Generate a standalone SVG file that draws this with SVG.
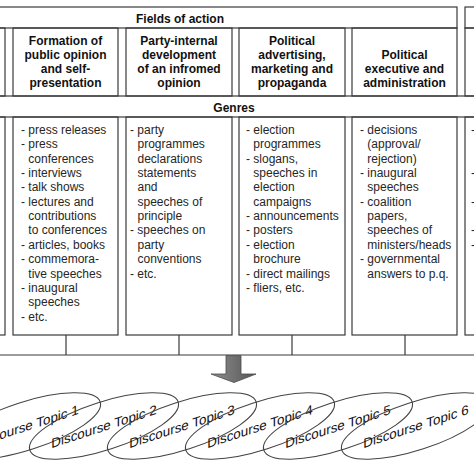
<svg xmlns="http://www.w3.org/2000/svg" width="474" height="474" viewBox="0 0 474 474">
<style>
.ln{fill:none;stroke:#3a3a3a;stroke-width:1.2}
.hd{font-family:"Liberation Sans",Arial,sans-serif;font-size:12px;font-weight:bold;fill:#111;text-anchor:middle}
.li{font-family:"Liberation Sans",Arial,sans-serif;font-size:12px;fill:#262626}
.tp{font-family:"Liberation Sans",Arial,sans-serif;font-size:13.4px;fill:#111;text-anchor:middle}
.el{fill:none;stroke:#444;stroke-width:1.1}
</style>
<defs>
<linearGradient id="ag" x1="0" y1="0" x2="1" y2="0">
<stop offset="0" stop-color="#8e8e8e"/>
<stop offset="1" stop-color="#555"/>
</linearGradient>
</defs>
<rect width="474" height="474" fill="#fff"/>

<g id="fields-header">
<rect class="ln" x="-10" y="7" width="467" height="21"/>
<rect class="ln" x="465" y="7" width="30" height="21"/>
<text class="hd" x="180" y="22.5">Fields of action</text>
</g>

<g id="field-0"><rect class="ln" x="-10" y="28" width="15" height="68"/></g>
<g id="field-1">
<rect class="ln" x="13" y="28" width="105" height="68"/>
<text class="hd" x="65.5" y="45">Formation of</text>
<text class="hd" x="65.5" y="59">public opinion</text>
<text class="hd" x="65.5" y="73">and self-</text>
<text class="hd" x="65.5" y="87">presentation</text>
</g>
<g id="field-2">
<rect class="ln" x="126" y="28" width="106" height="68"/>
<text class="hd" x="179" y="45">Party-internal</text>
<text class="hd" x="179" y="59">development</text>
<text class="hd" x="179" y="73">of an infromed</text>
<text class="hd" x="179" y="87">opinion</text>
</g>
<g id="field-3">
<rect class="ln" x="239" y="28" width="106" height="68"/>
<text class="hd" x="292" y="45">Political</text>
<text class="hd" x="292" y="59">advertising,</text>
<text class="hd" x="292" y="73">marketing and</text>
<text class="hd" x="292" y="87">propaganda</text>
</g>
<g id="field-4">
<rect class="ln" x="352" y="28" width="105" height="68"/>
<text class="hd" x="404.5" y="59">Political</text>
<text class="hd" x="404.5" y="73">executive and</text>
<text class="hd" x="404.5" y="87">administration</text>
</g>
<g id="field-5"><rect class="ln" x="465" y="28" width="30" height="68"/></g>

<g id="genres-header">
<rect class="ln" x="-10" y="96" width="505" height="21"/>
<text class="hd" x="234" y="111.5">Genres</text>
</g>

<g id="genre-0"><rect class="ln" x="-10" y="117" width="15" height="218"/></g>
<g id="genre-1">
<rect class="ln" x="13" y="117" width="105" height="218"/>
<text class="li" x="21" y="134">- press releases</text>
<text class="li" x="21" y="148.35">- press</text>
<text class="li" x="28.3" y="162.7">conferences</text>
<text class="li" x="21" y="177.05">- interviews</text>
<text class="li" x="21" y="191.4">- talk shows</text>
<text class="li" x="21" y="205.75">- lectures and</text>
<text class="li" x="28.3" y="220.1">contributions</text>
<text class="li" x="28.3" y="234.45">to conferences</text>
<text class="li" x="21" y="248.8">- articles, books</text>
<text class="li" x="21" y="263.15">- commemora-</text>
<text class="li" x="28.3" y="277.5">tive speeches</text>
<text class="li" x="21" y="291.85">- inaugural</text>
<text class="li" x="28.3" y="306.2">speeches</text>
<text class="li" x="21" y="320.55">- etc.</text>
</g>
<g id="genre-2">
<rect class="ln" x="126" y="117" width="106" height="218"/>
<text class="li" x="130" y="134">- party</text>
<text class="li" x="137.5" y="148.35">programmes</text>
<text class="li" x="137.5" y="162.7">declarations</text>
<text class="li" x="137.5" y="177.05">statements</text>
<text class="li" x="137.5" y="191.4">and</text>
<text class="li" x="137.5" y="205.75">speeches of</text>
<text class="li" x="137.5" y="220.1">principle</text>
<text class="li" x="130" y="234.45">- speeches on</text>
<text class="li" x="137.5" y="248.8">party</text>
<text class="li" x="137.5" y="263.15">conventions</text>
<text class="li" x="130" y="277.5">- etc.</text>
</g>
<g id="genre-3">
<rect class="ln" x="239" y="117" width="106" height="218"/>
<text class="li" x="246" y="134">- election</text>
<text class="li" x="253.3" y="148.35">programmes</text>
<text class="li" x="246" y="162.7">- slogans,</text>
<text class="li" x="253.3" y="177.05">speeches in</text>
<text class="li" x="253.3" y="191.4">election</text>
<text class="li" x="253.3" y="205.75">campaigns</text>
<text class="li" x="246" y="220.1">- announcements</text>
<text class="li" x="246" y="234.45">- posters</text>
<text class="li" x="246" y="248.8">- election</text>
<text class="li" x="253.3" y="263.15">brochure</text>
<text class="li" x="246" y="277.5">- direct mailings</text>
<text class="li" x="246" y="291.85">- fliers, etc.</text>
</g>
<g id="genre-4">
<rect class="ln" x="352" y="117" width="105" height="218"/>
<text class="li" x="360" y="134">- decisions</text>
<text class="li" x="367.3" y="148.35">(approval/</text>
<text class="li" x="367.3" y="162.7">rejection)</text>
<text class="li" x="360" y="177.05">- inaugural</text>
<text class="li" x="367.3" y="191.4">speeches</text>
<text class="li" x="360" y="205.75">- coalition</text>
<text class="li" x="367.3" y="220.1">papers,</text>
<text class="li" x="367.3" y="234.45">speeches of</text>
<text class="li" x="367.3" y="248.8">ministers/heads</text>
<text class="li" x="360" y="263.15">- governmental</text>
<text class="li" x="367.3" y="277.5">answers to p.q.</text>
</g>
<g id="genre-5">
<rect class="ln" x="465" y="117" width="30" height="218"/>
<text class="li" x="471" y="134">-</text>
<text class="li" x="471" y="177.05">-</text>
<text class="li" x="471" y="205.75">-</text>
<text class="li" x="471" y="234.45">-</text>
<text class="li" x="471" y="248.8">-</text>
</g>

<g id="connectors">
<path class="ln" d="M66 335V355M179 335V355M292 335V355M405 335V355M-10 355H484"/>
</g>

<g id="arrow">
<polygon points="226,355.6 241,355.6 241,374 256,374 234,382.5 211,374 226,374" fill="url(#ag)" stroke="#4a4a4a" stroke-width="0.8"/>
</g>

<g id="topic-1">
<ellipse class="el" cx="26" cy="426" rx="78" ry="24" transform="rotate(-18 26 426)"/>
<text class="tp" transform="translate(26 426) skewY(-18)" x="0" y="5">Discourse Topic 1</text>
</g>
<g id="topic-2">
<ellipse class="el" cx="104" cy="426" rx="78" ry="24" transform="rotate(-18 104 426)"/>
<text class="tp" transform="translate(104 426) skewY(-18)" x="0" y="5">Discourse Topic 2</text>
</g>
<g id="topic-3">
<ellipse class="el" cx="182" cy="426" rx="78" ry="24" transform="rotate(-18 182 426)"/>
<text class="tp" transform="translate(182 426) skewY(-18)" x="0" y="5">Discourse Topic 3</text>
</g>
<g id="topic-4">
<ellipse class="el" cx="260" cy="426" rx="78" ry="24" transform="rotate(-18 260 426)"/>
<text class="tp" transform="translate(260 426) skewY(-18)" x="0" y="5">Discourse Topic 4</text>
</g>
<g id="topic-5">
<ellipse class="el" cx="338" cy="426" rx="78" ry="24" transform="rotate(-18 338 426)"/>
<text class="tp" transform="translate(338 426) skewY(-18)" x="0" y="5">Discourse Topic 5</text>
</g>
<g id="topic-6">
<ellipse class="el" cx="416" cy="426" rx="78" ry="24" transform="rotate(-18 416 426)"/>
<text class="tp" transform="translate(416 426) skewY(-18)" x="0" y="5">Discourse Topic 6</text>
</g>
</svg>
